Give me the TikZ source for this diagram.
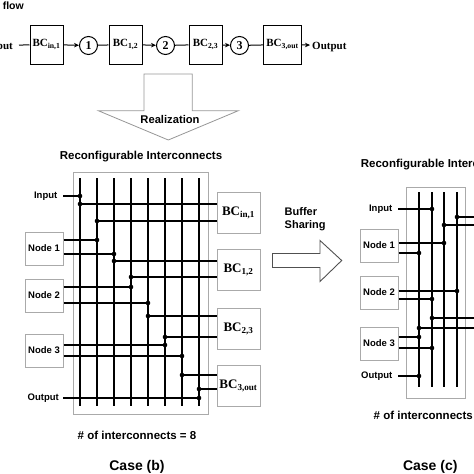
\documentclass[tikz,border=0pt]{standalone}
\usepackage{fontspec}
\setmainfont{Liberation Serif}
\setsansfont{Liberation Sans}
\usetikzlibrary{arrows.meta}
\definecolor{boxgray}{RGB}{170,170,170}
\definecolor{arrgray}{RGB}{150,150,150}
\definecolor{darkarr}{RGB}{80,80,80}
\newcommand\tobus[3]{\draw[wire] (#1 |- 0,#3) -- (#2 |- 0,#3); \fill (#2 |- 0,#3) circle (2.3pt);}
\newcommand\frombus[3]{\draw[wire] (#1 |- 0,#3) -- (#2 |- 0,#3); \fill (#1 |- 0,#3) circle (2.3pt);}
\begin{document}
\begin{tikzpicture}[x=1pt,y=-1pt,
  wire/.style={line width=1.7pt, black},
  gbox/.style={draw=boxgray, line width=1pt},
  topbox/.style={draw, line width=1pt, minimum width=33pt, minimum height=39pt, inner sep=0pt, font=\fontsize{11}{12}\selectfont\bfseries},
  circ/.style={draw, circle, line width=1pt, minimum size=18pt, inner sep=0pt, font=\fontsize{12}{13}\selectfont\bfseries},
  nodebox/.style={gbox, minimum width=38pt, minimum height=33pt, inner sep=0pt, font=\sffamily\bfseries\fontsize{9.5}{11}\selectfont},
  bcbox/.style={gbox, minimum width=43pt, minimum height=41pt, inner sep=0pt, font=\fontsize{13}{14}\selectfont\bfseries},
  lbl/.style={font=\sffamily\bfseries\fontsize{9.5}{11}\selectfont, inner sep=0pt},
  title/.style={font=\sffamily\bfseries\fontsize{11.5}{13}\selectfont, inner sep=0pt},
  caselbl/.style={font=\sffamily\bfseries\fontsize{14}{16}\selectfont, inner sep=0pt},
  toptext/.style={font=\fontsize{11}{12}\selectfont\bfseries, inner sep=0pt},
  flowline/.style={line width=1pt},
  flowarrow/.style={flowline, -{Stealth[length=5pt,width=4.5pt]}},
]
\useasboundingbox (0,0) rectangle (474,474);
\clip (0,0) rectangle (474,474);

% ---------- top data flow ----------
\node[font=\sffamily\bfseries\fontsize{10.5}{12}\selectfont, inner sep=0pt, anchor=east] (flowt) at (24,6) {Data flow};
\node[topbox] (t0) at (46.5,44.5) {BC\textsubscript{in,1}};
\node[circ] (c1) at (88.5,45.5) {1};
\node[topbox] (t1) at (125.5,44.5) {BC\textsubscript{1,2}};
\node[circ] (c2) at (165.5,45.5) {2};
\node[topbox] (t2) at (205.5,44.5) {BC\textsubscript{2,3}};
\node[circ] (c3) at (239.5,45.5) {3};
\node[topbox, minimum width=38pt] (t3) at (282.5,44.5) {BC\textsubscript{3,out}};
\node[toptext, anchor=east, inner xsep=6pt, text depth=0pt] (tin) at (19,45.5) {Input};
\node[toptext, anchor=west, inner xsep=2pt, text depth=0pt] (tout) at (310,45.5) {Output};
\draw[flowline] (tin) -- (t0);
\draw[flowarrow] (t0) -- (c1);
\draw[flowline] (c1) -- (t1);
\draw[flowarrow] (t1) -- (c2);
\draw[flowline] (c2) -- (t2);
\draw[flowarrow] (t2) -- (c3);
\draw[flowline] (c3) -- (t3);
\draw[flowarrow] (t3) -- (tout);

% ---------- realization arrow ----------
\draw[arrgray, line width=0.8pt] (144,74) -- (192.3,74) -- (192.3,110.7) -- (238.3,110.7)
  -- (168.3,140) -- (98.3,110.7) -- (144,110.7) -- cycle;
\node[title, font=\sffamily\bfseries\fontsize{11.2}{13}\selectfont] (realt) at (170,119.3) {Realization};

% ---------- case (b) ----------
\node[title] (tb) at (141,157) {Reconfigurable Interconnects};
\draw[gbox] (73.5,172.5) rectangle (208.5,414.5);
\foreach \xx [count=\i from 0] in {80,97,114,131,148,165,182,199} {
  \coordinate (bv\i) at (\xx,178);
  \draw[wire] (bv\i) -- (bv\i |- 0,406);
}
\node[nodebox] (bn1) at (44,248.5) {Node 1};
\node[nodebox] (bn2) at (44,295.5) {Node 2};
\node[nodebox] (bn3) at (44,350.5) {Node 3};
\node[bcbox] (bb0) at (238.5,213) {BC\textsubscript{in,1}};
\node[bcbox] (bb1) at (238.5,269.5) {BC\textsubscript{1,2}};
\node[bcbox] (bb2) at (238.5,328.5) {BC\textsubscript{2,3}};
\node[bcbox] (bb3) at (238.5,386) {BC\textsubscript{3,out}};
\node[lbl, anchor=east, inner xsep=5.5pt] (binp) at (63,196) {Input};
\node[lbl, anchor=east, inner xsep=4pt] (bout) at (63,398) {Output};

\tobus{binp.east}{bv0}{196}
\frombus{bv0}{bb0.west}{204}
\frombus{bv1}{bb0.west}{221}
\tobus{bn1.east}{bv1}{240}
\tobus{bn1.east}{bv2}{254}
\frombus{bv2}{bb1.west}{261}
\frombus{bv3}{bb1.west}{277}
\tobus{bn2.east}{bv3}{287}
\tobus{bn2.east}{bv4}{303}
\frombus{bv4}{bb2.west}{316}
\frombus{bv5}{bb2.west}{337}
\tobus{bn3.east}{bv5}{345}
\tobus{bn3.east}{bv6}{356}
\frombus{bv6}{bb3.west}{375}
\frombus{bv7}{bb3.west}{389}
\tobus{bout.east}{bv7}{398}

\node[title] (bcount) at (137,435) {\# of interconnects = 8};
\node[caselbl] (caseb) at (137,466.7) {Case (b)};

% ---------- buffer sharing arrow ----------
\draw[darkarr, line width=0.9pt] (272.5,253.5) -- (320,253.5) -- (320,240.5) -- (341.7,260.5)
  -- (320,281.5) -- (320,267.5) -- (272.5,267.5) -- cycle;
\node[title, font=\sffamily\bfseries\fontsize{11}{13.5}\selectfont, align=left, anchor=west] (bst) at (284.5,219) {Buffer\\Sharing};

% ---------- case (c) ----------
\node[title, anchor=west] (tc) at (360.7,165) {Reconfigurable Interconnects};
\draw[gbox] (406.5,187.5) rectangle (465.5,398.5);
\foreach \xx [count=\i from 0] in {419,432,444,457} {
  \coordinate (cv\i) at (\xx,192);
  \draw[wire] (cv\i) -- (cv\i |- 0,387);
}
\coordinate (edge) at (480,0);
\node[nodebox] (cn1) at (379,245.5) {Node 1};
\node[nodebox] (cn2) at (379,292.5) {Node 2};
\node[nodebox] (cn3) at (379,343.5) {Node 3};
\node[lbl, anchor=east, inner xsep=5.5pt] (cinp) at (398,209) {Input};
\node[lbl, anchor=east, inner xsep=5.5pt] (cout) at (398,376) {Output};

\tobus{cinp.east}{cv1}{209}
\frombus{cv3}{edge}{217}
\frombus{cv2}{edge}{225}
\tobus{cn1.east}{cv2}{243}
\tobus{cn1.east}{cv0}{253}
\tobus{cn2.east}{cv3}{291}
\tobus{cn2.east}{cv1}{299}
\frombus{cv1}{edge}{318}
\frombus{cv0}{edge}{328}
\tobus{cn3.east}{cv0}{337}
\tobus{cn3.east}{cv1}{348}
\tobus{cout.east}{cv0}{376}

\node[title] (ccount) at (433,415) {\# of interconnects = 4};
\node[caselbl] (casec) at (430.3,466.7) {Case (c)};
\end{tikzpicture}
\end{document}
